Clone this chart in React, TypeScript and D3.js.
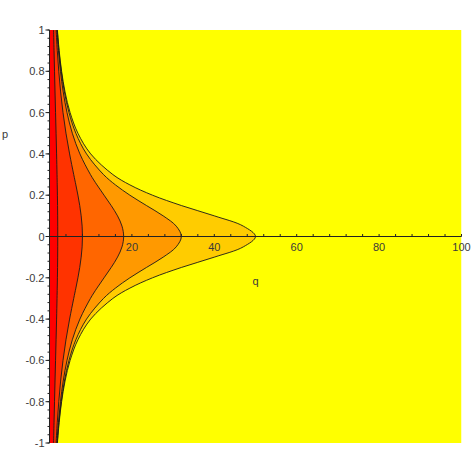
import React, { useEffect, useRef } from 'react';
import * as d3 from 'd3';

// contour curves: q position of each curve at the given |p|
// (the plot is mirror symmetric about p = 0)
const pValues = [0, 0.05, 0.1, 0.15, 0.2, 0.25, 0.3, 0.4, 0.5, 0.6, 0.7, 0.8, 0.9, 1.0];
const curve1 = [2.0, 2.0, 1.98, 1.96, 1.92, 1.88, 1.83, 1.72, 1.6, 1.47, 1.34, 1.22, 1.1, 1.0];
const curve2 = [8.0, 7.92, 7.69, 7.34, 6.9, 6.4, 5.88, 4.88, 4.0, 3.28, 2.7, 2.25, 1.89, 1.6];
const curve3 = [18.0, 17.6, 16.51, 14.97, 13.24, 11.52, 9.94, 7.38, 5.54, 4.25, 3.33, 2.66, 2.17, 1.8];
const curve4 = [32.0, 30.77, 27.59, 23.53, 19.51, 16.0, 13.11, 8.99, 6.4, 4.73, 3.62, 2.85, 2.29, 1.88];
const curve5 = [50.0, 47.06, 40.0, 32.0, 25.0, 19.51, 15.38, 10.0, 6.9, 5.0, 3.77, 2.94, 2.35, 1.92];

// fill of the region left of each curve, outermost first
const curves = [curve5, curve4, curve3, curve2, curve1];
const fills = ['#ffcc00', '#ff9900', '#ff6600', '#ff3300', '#ff0000'];
const background = '#ffff00';

const xMajor = [20, 40, 60, 80, 100];
const yMajor = [1, 0.8, 0.6, 0.4, 0.2, 0, -0.2, -0.4, -0.6, -0.8, -1];

export default function App() {
  const node = useRef<SVGSVGElement>(null);

  useEffect(() => {
    const svg = d3.select(node.current);
    svg.selectAll('*').remove();

    const x = d3.scaleLinear().domain([0, 100]).range([49.5, 461.5]);
    const y = d3.scaleLinear().domain([-1, 1]).range([443, 30]);

    svg.append('defs').append('clipPath').attr('id', 'plot')
      .append('rect')
      .attr('x', x(0)).attr('y', y(1))
      .attr('width', x(100) - x(0)).attr('height', y(-1) - y(1));

    const g = svg.append('g').attr('clip-path', 'url(#plot)');

    g.append('rect')
      .attr('x', x(0)).attr('y', y(1))
      .attr('width', x(100) - x(0)).attr('height', y(-1) - y(1))
      .attr('fill', background);

    const mirror = (qs: number[]) => {
      const pts: [number, number][] = [];
      for (let i = pValues.length - 1; i > 0; i--) pts.push([-pValues[i], qs[i]]);
      for (let i = 0; i < pValues.length; i++) pts.push([pValues[i], qs[i]]);
      return pts;
    };

    const area = d3.area<[number, number]>()
      .y(d => y(d[0]))
      .x0(x(0))
      .x1(d => x(d[1]))
      .curve(d3.curveCatmullRom);

    const line = d3.line<[number, number]>()
      .y(d => y(d[0]))
      .x(d => x(d[1]))
      .curve(d3.curveCatmullRom);

    curves.forEach((qs, i) => {
      g.append('path').attr('d', area(mirror(qs))).attr('fill', fills[i]);
    });
    curves.forEach(qs => {
      g.append('path')
        .attr('d', line(mirror(qs)))
        .attr('fill', 'none')
        .attr('stroke', '#1a1a1a')
        .attr('stroke-width', 0.9);
    });

    const font = 'Liberation Sans, Arial, sans-serif';
    const textColor = '#3a3a3a';

    // x axis along p = 0
    const xAxis = svg.append('g');
    xAxis.append('line')
      .attr('x1', x(0)).attr('x2', x(100))
      .attr('y1', y(0)).attr('y2', y(0))
      .attr('stroke', '#222').attr('stroke-width', 1);
    xAxis.selectAll('line.minor')
      .data(d3.range(4, 101, 4))
      .enter().append('line')
      .attr('x1', d => x(d)).attr('x2', d => x(d))
      .attr('y1', y(0)).attr('y2', y(0) - 2.5)
      .attr('stroke', '#222');
    xAxis.selectAll('text')
      .data(xMajor)
      .enter().append('text')
      .attr('x', d => x(d))
      .attr('y', y(0) + 14)
      .attr('text-anchor', 'middle')
      .attr('font-family', font).attr('font-size', 11)
      .attr('fill', textColor)
      .text(d => d);

    // y axis at q = 0
    const yAxis = svg.append('g');
    yAxis.append('line')
      .attr('x1', x(0)).attr('x2', x(0))
      .attr('y1', y(1)).attr('y2', y(-1))
      .attr('stroke', '#222').attr('stroke-width', 1);
    yAxis.selectAll('line.minor')
      .data(d3.range(-25, 26).map(k => k * 0.04))
      .enter().append('line')
      .attr('x1', x(0)).attr('x2', x(0) - 2)
      .attr('y1', d => y(d)).attr('y2', d => y(d))
      .attr('stroke', '#222');
    yAxis.selectAll('line.major')
      .data(yMajor)
      .enter().append('line')
      .attr('x1', x(0)).attr('x2', x(0) - 4)
      .attr('y1', d => y(d)).attr('y2', d => y(d))
      .attr('stroke', '#222');
    yAxis.selectAll('text')
      .data(yMajor)
      .enter().append('text')
      .attr('x', x(0) - 5)
      .attr('y', d => y(d) + 4)
      .attr('text-anchor', 'end')
      .attr('font-family', font).attr('font-size', 11)
      .attr('fill', textColor)
      .text(d => String(d));

    svg.append('text')
      .attr('x', (x(0) + x(100)) / 2).attr('y', y(0) + 48)
      .attr('text-anchor', 'middle')
      .attr('font-family', font).attr('font-size', 11)
      .attr('fill', textColor)
      .text('q');
    svg.append('text')
      .attr('x', 5).attr('y', 138)
      .attr('text-anchor', 'middle')
      .attr('font-family', font).attr('font-size', 11)
      .attr('fill', textColor)
      .text('p');
  }, []);

  return (
    <svg
      ref={node}
      width={474}
      height={474}
      style={{ position: 'absolute', left: 0, top: 0, background: '#fff' }}
    />
  );
}
